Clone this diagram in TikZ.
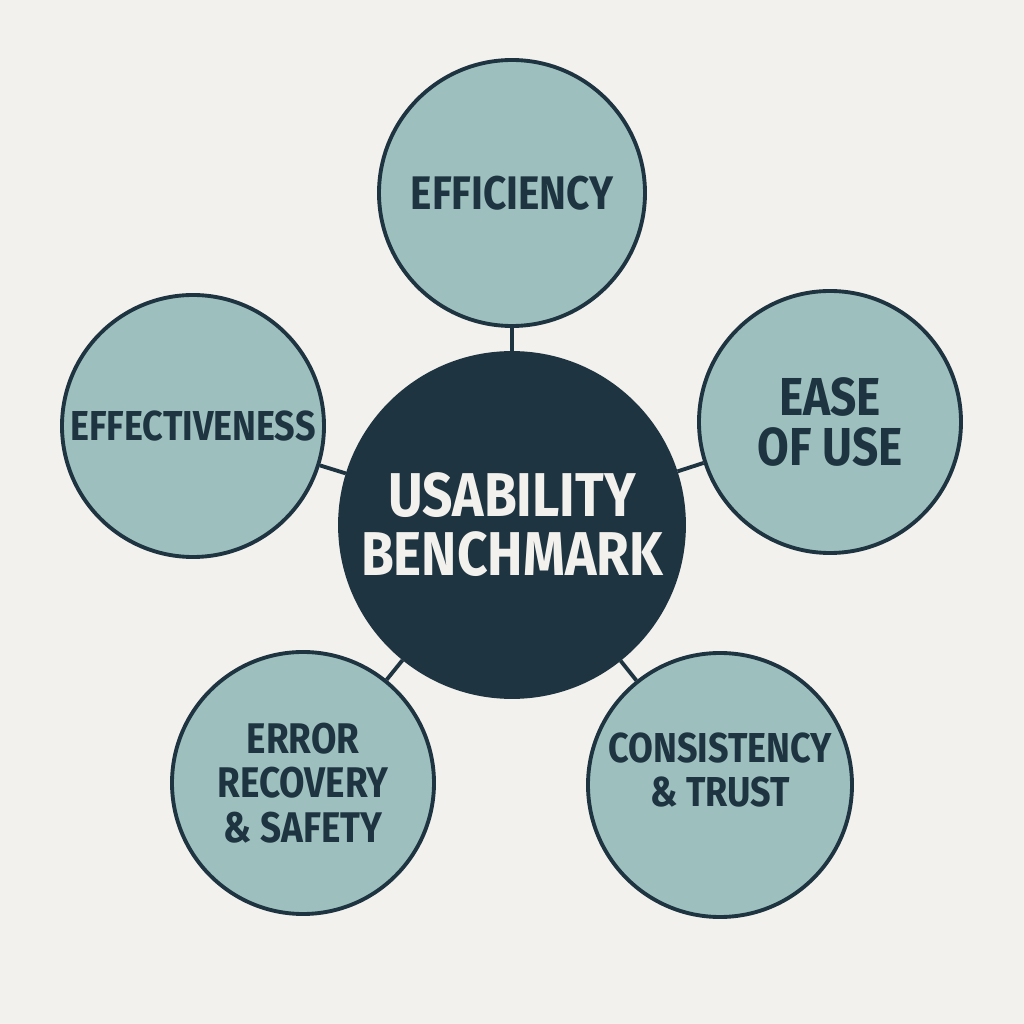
\documentclass[tikz,border=0pt]{standalone}
\usepackage{fontspec}
\setmainfont{Fira Sans}[FakeStretch=0.86]
\usetikzlibrary{positioning,backgrounds}

\definecolor{bgpaper}{HTML}{F3F1EE}
\definecolor{navy}{HTML}{1E3440}
\definecolor{teal}{HTML}{9DC0BF}

\begin{document}
\begin{tikzpicture}[
    hub/.style={circle, draw=navy, fill=navy, line width=1.1pt,
                minimum size=3.44cm, inner sep=0pt, align=center,
                text=bgpaper, font=\bfseries\fontsize{17.6}{16.8}\selectfont},
    metric/.style={circle, draw=navy, fill=teal, line width=1.1pt,
                   minimum size=2.62cm, inner sep=0pt, align=center,
                   text=navy, font=\bfseries\fontsize{12.2}{12.6}\selectfont},
    spoke/.style={draw=navy, line width=1.1pt}
]
\useasboundingbox[fill=bgpaper] (0,0) rectangle (10.24,10.24);

% Centre
\node[hub] (UB) at (5.12,4.99) {USABILITY\\BENCHMARK};

% Surrounding criteria
\node[metric, minimum size=2.66cm, font=\bfseries\fontsize{13.4}{13.4}\selectfont]
    (EF) at (5.12,8.31) {EFFICIENCY};
\node[metric, font=\bfseries\fontsize{11.9}{12.6}\selectfont]
    (EV) at (1.93,5.98) {EFFECTIVENESS};
\node[metric, font=\bfseries\fontsize{15.2}{14.4}\selectfont]
    (EU) at (8.30,6.02) {EASE\\OF USE};
\node[metric] (ER) at (3.03,2.41) {ERROR\\RECOVERY\\\& SAFETY};
\node[metric, minimum size=2.64cm,
      label={[yshift=0.15cm, align=center, text=navy,
              font=\bfseries\fontsize{11.9}{12.6}\selectfont]center:CONSISTENCY\\\& TRUST}]
    (CT) at (7.20,2.39) {};

% Spokes
\draw[spoke] (UB) -- (EF);
\draw[spoke] (UB) -- (EV);
\draw[spoke] (UB) -- (EU);
\draw[spoke] (UB) -- (ER);
\draw[spoke] (UB) -- (CT);

\end{tikzpicture}
\end{document}
